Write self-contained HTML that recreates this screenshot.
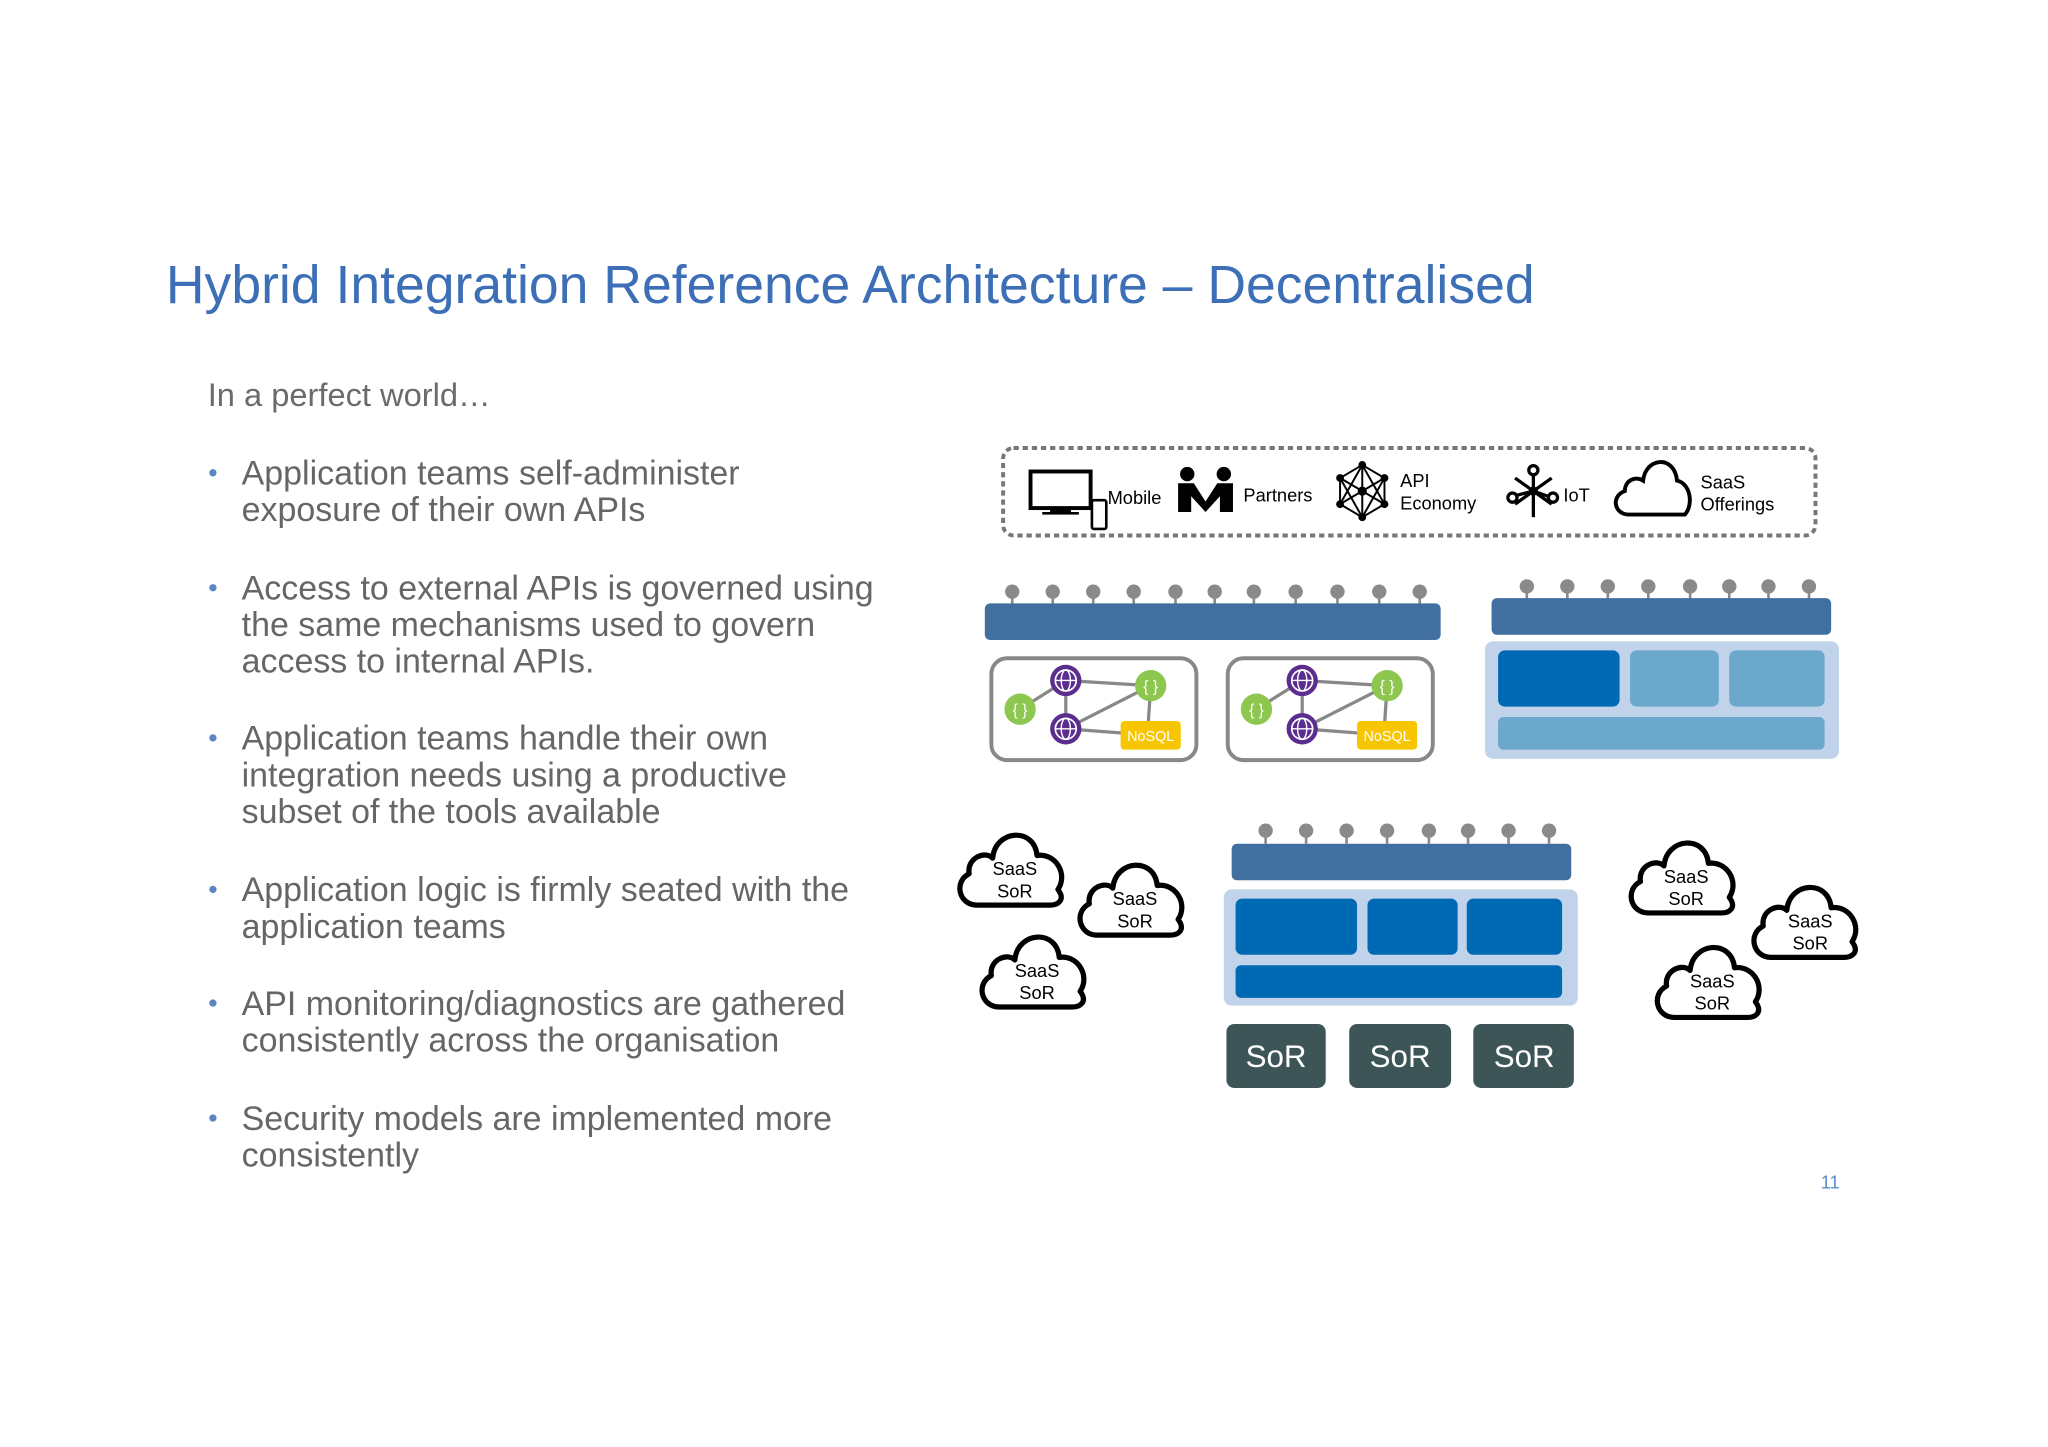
<!DOCTYPE html>
<html><head><meta charset="utf-8"><style>
html,body{margin:0;padding:0;background:#fff;}
svg{display:block;}
text{font-family:"Liberation Sans",sans-serif;}
</style></head><body>
<svg width="2048" height="1447" viewBox="0 0 1568 1107.9" xmlns="http://www.w3.org/2000/svg">
<defs>
<g id="pin"><line x1="0" y1="0" x2="0" y2="10" stroke="#8a8a8a" stroke-width="2"/><circle cx="0" cy="0" r="5.5" fill="#8a8a8a"/></g>
<path id="cloud" d="M-26,28 C-40,28 -44,10 -32,4 C-34,-8 -20,-14 -14,-8 C-12,-30 18,-32 20,-10 C34,-12 44,4 36,16 C42,24 36,28 30,28 Z" fill="#fff" stroke="#000" stroke-width="4" stroke-linejoin="round"/>
<g id="globe"><circle r="12" fill="#5b2d8e"/><circle r="8" fill="none" stroke="#fff" stroke-width="1.3"/><ellipse rx="3.5" ry="8" fill="none" stroke="#fff" stroke-width="1.1"/><line x1="-8" y1="0" x2="8" y2="0" stroke="#fff" stroke-width="1.1"/></g>
<g id="brace"><circle r="12" fill="#8dc750"/><text x="0" y="4.5" font-size="12" fill="#fff" text-anchor="middle">{ }</text></g>
<g id="net">
<rect x="0" y="0" width="157" height="78" rx="12" fill="#fff" stroke="#888" stroke-width="3"/>
<g stroke="#888" stroke-width="2.5">
<line x1="22" y1="39" x2="57" y2="17"/><line x1="57" y1="17" x2="122" y2="21"/><line x1="57" y1="17" x2="57" y2="54"/>
<line x1="57" y1="54" x2="122" y2="21"/><line x1="57" y1="54" x2="110" y2="58"/><line x1="122" y1="21" x2="120" y2="52"/>
</g>
<use href="#brace" x="22" y="39"/><use href="#brace" x="122" y="21"/>
<use href="#globe" x="57" y="17"/><use href="#globe" x="57" y="54"/>
<rect x="99" y="48" width="46" height="22" rx="3" fill="#f7c600"/>
<text x="122" y="63.5" font-size="11" fill="#fff" text-anchor="middle">NoSQL</text>
</g>
</defs>

<text x="127" y="232" font-size="41" fill="#3d6fb6">Hybrid Integration Reference Architecture – Decentralised</text>
<text x="159" y="311" font-size="25" fill="#6b6b6b">In a perfect world…</text>

<g font-size="26" fill="#666">
<g fill="#5b86c0"><circle cx="163" cy="362" r="2.8"/><circle cx="163" cy="450" r="2.8"/><circle cx="163" cy="565" r="2.8"/><circle cx="163" cy="681" r="2.8"/><circle cx="163" cy="768" r="2.8"/><circle cx="163" cy="856" r="2.8"/></g>
<text x="185" y="371">Application teams self-administer</text>
<text x="185" y="399">exposure of their own APIs</text>
<text x="185" y="459">Access to external APIs is governed using</text>
<text x="185" y="487">the same mechanisms used to govern</text>
<text x="185" y="515">access to internal APIs.</text>
<text x="185" y="574">Application teams handle their own</text>
<text x="185" y="602">integration needs using a productive</text>
<text x="185" y="630">subset of the tools available</text>
<text x="185" y="690">Application logic is firmly seated with the</text>
<text x="185" y="718">application teams</text>
<text x="185" y="777">API monitoring/diagnostics are gathered</text>
<text x="185" y="805">consistently across the organisation</text>
<text x="185" y="865">Security models are implemented more</text>
<text x="185" y="893">consistently</text>
</g>

<rect x="768" y="343" width="622" height="67" rx="8" fill="none" stroke="#777" stroke-width="3" stroke-dasharray="4 3"/>
<rect x="789" y="361" width="46" height="28" fill="#fff" stroke="#000" stroke-width="3"/>
<rect x="804" y="389" width="16" height="4" fill="#000"/><rect x="798" y="392" width="28" height="2" fill="#000"/>
<rect x="836" y="383" width="11" height="22" rx="1.5" fill="#fff" stroke="#000" stroke-width="2"/>
<text x="848" y="386" font-size="14" fill="#000">Mobile</text>
<circle cx="909" cy="363" r="5.5" fill="#000"/><circle cx="937" cy="363" r="5.5" fill="#000"/>
<path d="M902,370 h12 l9,14 l9,-14 h12 v22 h-10 v-12 l-11,12 l-11,-12 v12 h-10 z" fill="#000"/>
<text x="952" y="384" font-size="14" fill="#000">Partners</text>
<g stroke="#000" stroke-width="1.5" fill="none">
<polygon points="1043,356 1060,366 1060,386 1043,396 1026,386 1026,366"/>
<line x1="1043" y1="356" x2="1043" y2="396"/><line x1="1026" y1="366" x2="1060" y2="386"/><line x1="1060" y1="366" x2="1026" y2="386"/>
<line x1="1043" y1="356" x2="1026" y2="386"/><line x1="1043" y1="356" x2="1060" y2="386"/><line x1="1043" y1="396" x2="1026" y2="366"/><line x1="1043" y1="396" x2="1060" y2="366"/>
</g>
<g fill="#000"><circle cx="1043" cy="356" r="3"/><circle cx="1060" cy="366" r="3"/><circle cx="1060" cy="386" r="3"/><circle cx="1043" cy="396" r="3"/><circle cx="1026" cy="386" r="3"/><circle cx="1026" cy="366" r="3"/><circle cx="1043" cy="376" r="3.5"/></g>
<text x="1072" y="373" font-size="14" fill="#000">API</text><text x="1072" y="390" font-size="14" fill="#000">Economy</text>
<g stroke="#000" stroke-width="2.5" fill="#fff">
<line x1="1174" y1="362" x2="1174" y2="396"/><line x1="1160" y1="366" x2="1188" y2="386"/><line x1="1188" y1="366" x2="1160" y2="386"/><line x1="1174" y1="376" x2="1158" y2="380"/><line x1="1174" y1="376" x2="1188" y2="381"/>
<circle cx="1174" cy="360" r="3.5"/><circle cx="1158" cy="381" r="3.5"/><circle cx="1189" cy="381" r="3.5"/>
</g>
<circle cx="1174" cy="376" r="3.5" fill="#000"/>
<text x="1197" y="384" font-size="14" fill="#000">IoT</text>
<path d="M1247,394 C1236,394 1233,380 1244,376 C1244,368 1252,364 1258,368 C1260,350 1282,348 1284,368 C1294,370 1297,386 1290,394 Z" fill="#fff" stroke="#000" stroke-width="3"/>
<text x="1302" y="374" font-size="14" fill="#000">SaaS</text><text x="1302" y="391" font-size="14" fill="#000">Offerings</text>

<g><use href="#pin" x="775" y="453"/><use href="#pin" x="806" y="453"/><use href="#pin" x="837" y="453"/><use href="#pin" x="868" y="453"/><use href="#pin" x="900" y="453"/><use href="#pin" x="930" y="453"/><use href="#pin" x="960" y="453"/><use href="#pin" x="992" y="453"/><use href="#pin" x="1024" y="453"/><use href="#pin" x="1056" y="453"/><use href="#pin" x="1087" y="453"/></g>
<rect x="754" y="462" width="349" height="28" rx="4" fill="#406fa0"/>
<use href="#net" x="759" y="504"/>
<use href="#net" x="940" y="504"/>

<g><use href="#pin" x="1169" y="449"/><use href="#pin" x="1200" y="449"/><use href="#pin" x="1231" y="449"/><use href="#pin" x="1262" y="449"/><use href="#pin" x="1294" y="449"/><use href="#pin" x="1324" y="449"/><use href="#pin" x="1354" y="449"/><use href="#pin" x="1385" y="449"/></g>
<rect x="1142" y="458" width="260" height="28" rx="4" fill="#406fa0"/>
<rect x="1137" y="491" width="271" height="90" rx="6" fill="#c1d3ea"/>
<rect x="1147" y="498" width="93" height="43" rx="5" fill="#0069b4"/>
<rect x="1248" y="498" width="68" height="43" rx="5" fill="#6ba8cb"/>
<rect x="1324" y="498" width="73" height="43" rx="5" fill="#6ba8cb"/>
<rect x="1147" y="549" width="250" height="25" rx="4" fill="#6ba8cb"/>

<g><use href="#pin" x="969" y="636"/><use href="#pin" x="1000" y="636"/><use href="#pin" x="1031" y="636"/><use href="#pin" x="1062" y="636"/><use href="#pin" x="1094" y="636"/><use href="#pin" x="1124" y="636"/><use href="#pin" x="1155" y="636"/><use href="#pin" x="1186" y="636"/></g>
<rect x="943" y="646" width="260" height="28" rx="4" fill="#406fa0"/>
<rect x="937" y="681" width="271" height="89" rx="6" fill="#c1d3ea"/>
<rect x="946" y="688" width="93" height="43" rx="5" fill="#0069b4"/>
<rect x="1047" y="688" width="69" height="43" rx="5" fill="#0069b4"/>
<rect x="1123" y="688" width="73" height="43" rx="5" fill="#0069b4"/>
<rect x="946" y="739" width="250" height="25" rx="4" fill="#0069b4"/>

<g font-size="24" fill="#fff" text-anchor="middle">
<rect x="939" y="784" width="76" height="49" rx="6" fill="#3d5556"/><text x="977" y="817">SoR</text>
<rect x="1033" y="784" width="78" height="49" rx="6" fill="#3d5556"/><text x="1072" y="817">SoR</text>
<rect x="1128" y="784" width="77" height="49" rx="6" fill="#3d5556"/><text x="1167" y="817">SoR</text>
</g>

<g font-size="14" fill="#000" text-anchor="middle">
<use href="#cloud" x="774" y="665"/><text x="777" y="670">SaaS</text><text x="777" y="687">SoR</text>
<use href="#cloud" x="866" y="688"/><text x="869" y="693">SaaS</text><text x="869" y="710">SoR</text>
<use href="#cloud" x="791" y="743"/><text x="794" y="748">SaaS</text><text x="794" y="765">SoR</text>
<use href="#cloud" x="1288" y="671"/><text x="1291" y="676">SaaS</text><text x="1291" y="693">SoR</text>
<use href="#cloud" x="1382" y="705"/><text x="1386" y="710">SaaS</text><text x="1386" y="727">SoR</text>
<use href="#cloud" x="1308" y="751"/><text x="1311" y="756">SaaS</text><text x="1311" y="773">SoR</text>
</g>

<text x="1394" y="910" font-size="14" fill="#5b8ccc">11</text>
</svg>
</body></html>
